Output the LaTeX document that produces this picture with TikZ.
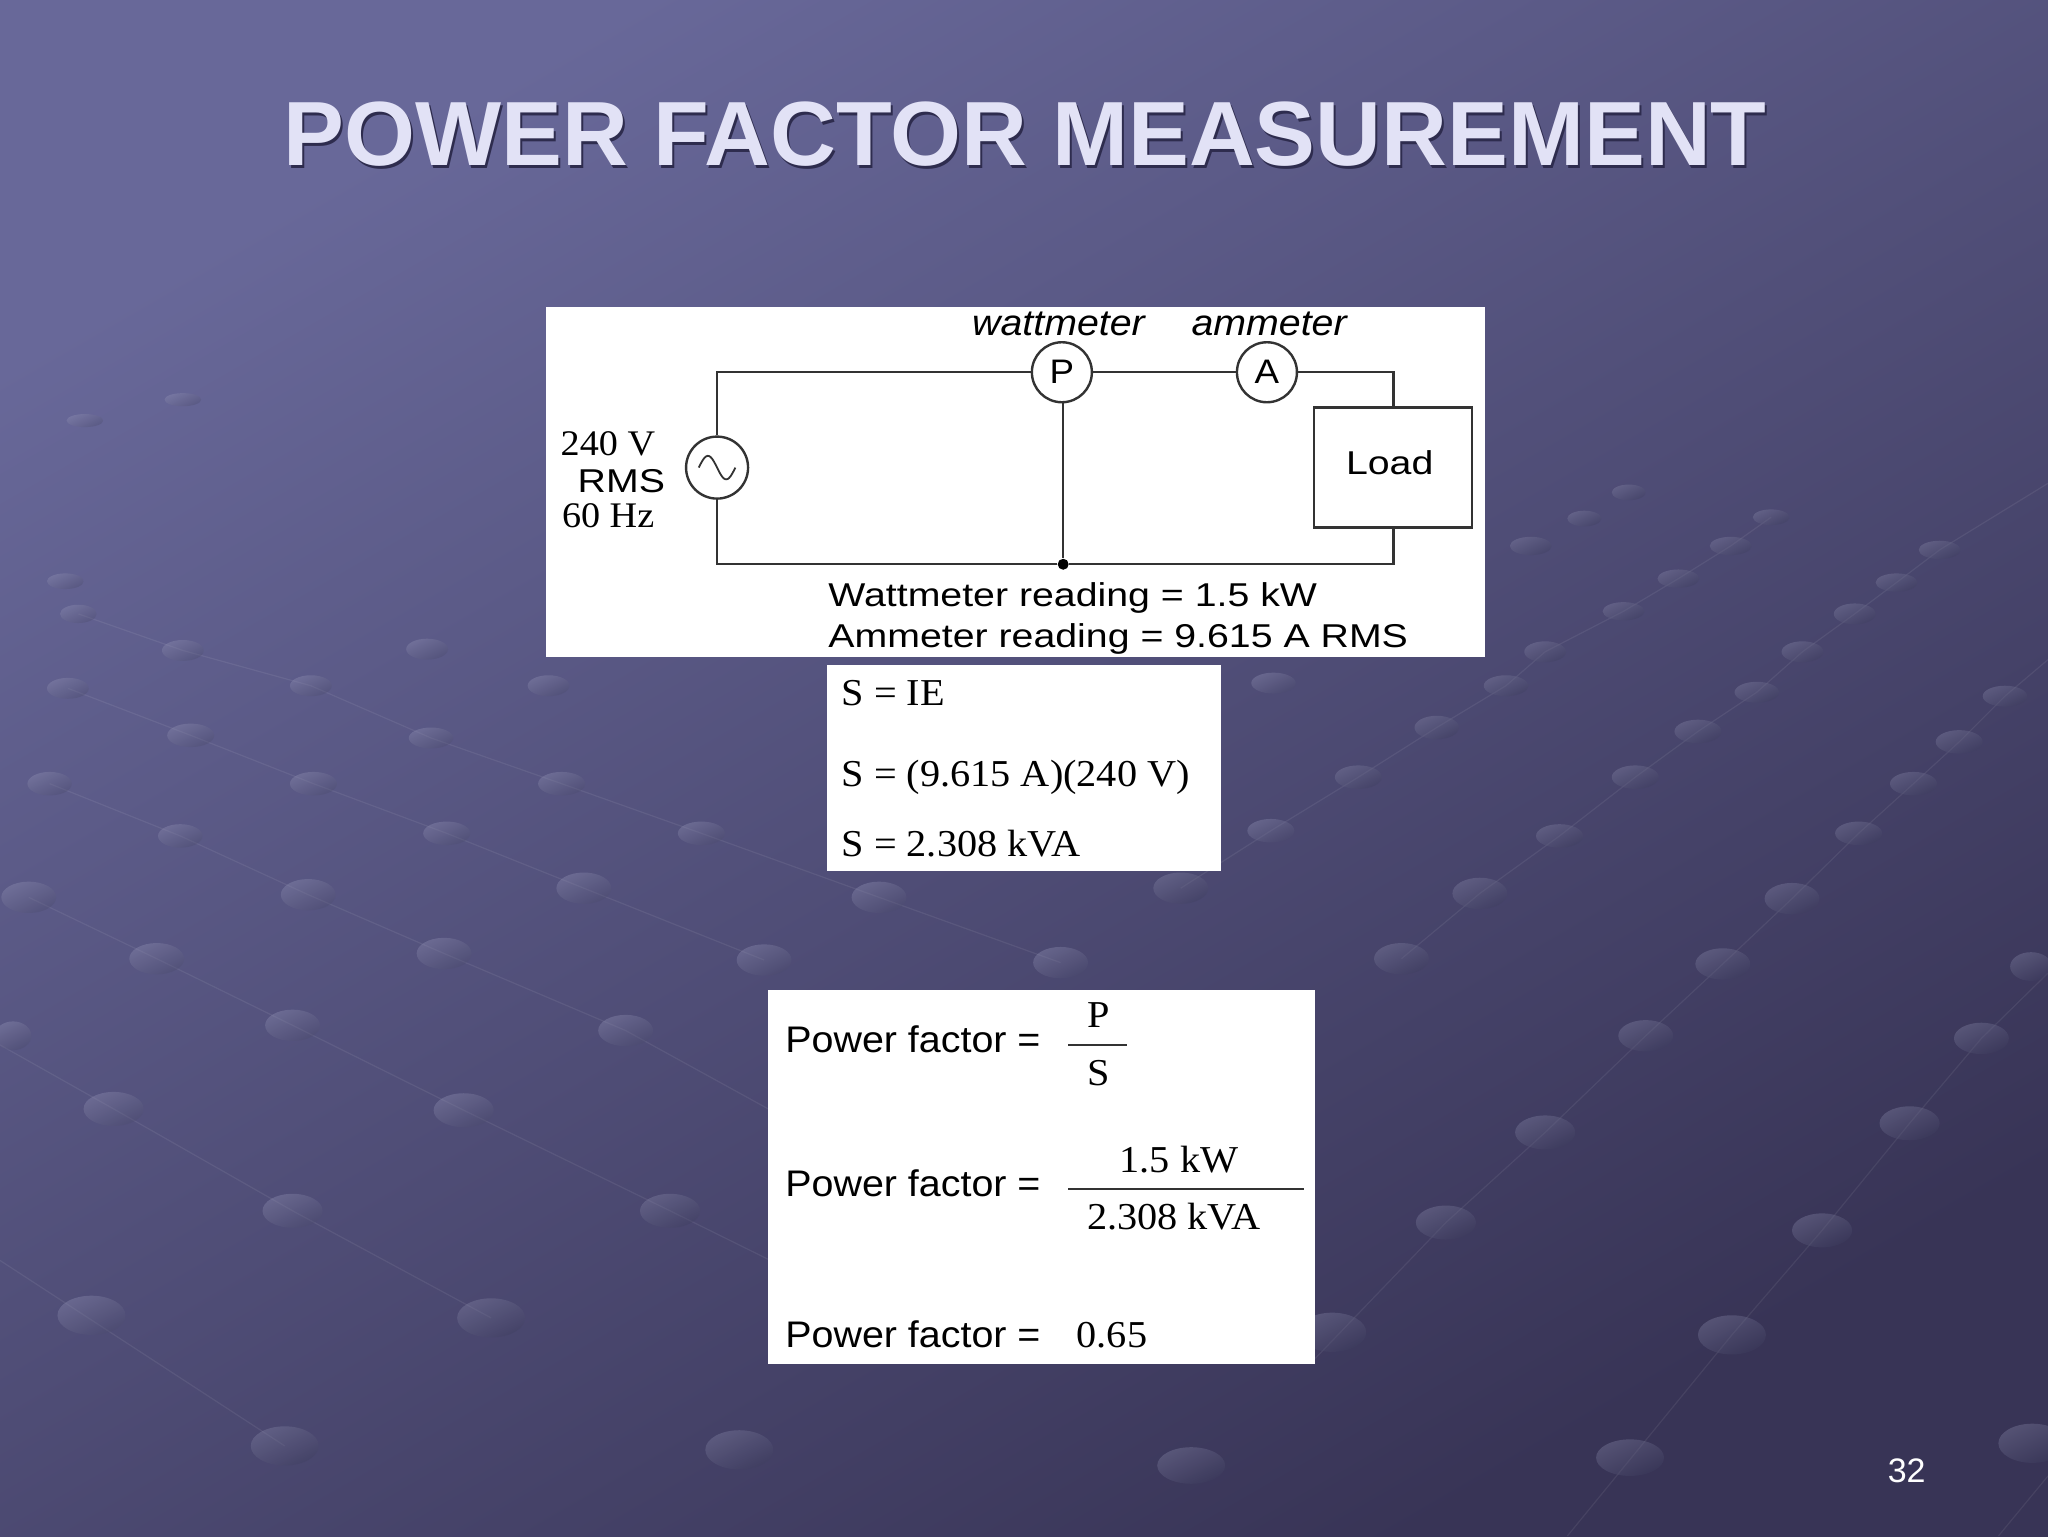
\documentclass[tikz,border=0pt]{standalone}
\usepackage{fontspec}
\setmainfont{Liberation Sans}
\newfontfamily\serifeq[FakeStretch=1.06]{Liberation Serif}
\newfontfamily\sanseq[FakeStretch=1.08]{Liberation Sans}
\newfontfamily\sanswide[FakeStretch=1.19]{Liberation Sans}
\newfontfamily\sanspf[FakeStretch=1.065]{Liberation Sans}
\definecolor{bgA}{HTML}{686899}
\definecolor{bgB}{HTML}{565684}
\definecolor{bgC}{HTML}{383456}
\definecolor{titlecol}{HTML}{E2E2F6}
\definecolor{shadowcol}{HTML}{2E2C4E}
\definecolor{wire}{HTML}{333333}
\tikzset{
  bgdot/.style={top color=#1!72!white,bottom color=#1!70!black,shading angle=25,opacity=.38},
  bgline/.style={draw=white,opacity=.07,line width=.6pt},
  whitebox/.style={fill=white,draw=none},
  circ/.style={circle,draw=wire,line width=1.2pt,minimum size=30pt,inner sep=0pt,fill=white},
  wireline/.style={draw=wire,line width=1.2pt},
  elabel/.style={inner sep=0pt,anchor=base west,text=black},
  clabel/.style={elabel,font=\sanswide\fontsize{16.5}{18}\selectfont},
  pf/.style={elabel,font=\sanspf\fontsize{18.5}{22}\selectfont},
  seq/.style={elabel,font=\serifeq\fontsize{19}{22}\selectfont},
  ttl/.style={font=\bfseries\fontsize{45.6}{54}\selectfont,inner sep=0pt,anchor=base},
}
\begin{document}
\begin{tikzpicture}[x=0.65306pt,y=-0.65306pt]
\useasboundingbox (0,0) rectangle (1568,1176);
% background
\shade[top color=bgA,middle color=bgB,bottom color=bgC,shading angle=30] (0,0) rectangle (1568,1176);
% faint lines
\foreach \p in {
 {(0,965)--(218,1107)},
 {(0,800)--(87,849)--(224,927)--(376,1009)},
 {(22,687)--(120,734)--(224,785)--(355,850)--(513,927)--(600,970)},
 {(38,600)--(138,640)--(236,685)--(340,730)--(479,789)--(590,850)},
 {(52,527)--(146,563)--(240,600)--(342,638)--(447,680)--(585,735)},
 {(60,470)--(140,498)--(238,525)--(330,565)--(430,600)--(537,638)--(673,687)--(812,737)},
 {(1200,1176)--(1326,1022)--(1395,942)--(1462,860)--(1517,795)--(1568,745)},
 {(1007,1040)--(1107,936)--(1183,867)--(1260,793)--(1319,738)--(1372,688)--(1423,638)--(1465,600)--(1500,568)--(1535,533)--(1568,505)},
 {(1073,734)--(1133,684)--(1194,640)--(1252,595)--(1300,560)--(1345,530)--(1380,499)--(1420,470)--(1452,446)--(1485,421)--(1568,370)},
 {(904,680)--(973,636)--(1040,595)--(1100,557)--(1153,525)--(1183,499)--(1243,468)--(1285,443)--(1325,418)--(1356,396)},
 {(1530,1176)--(1568,1130)}%
}{ \path[bgline] \p; }
% dots: x/y/rx/ry/colour
\foreach \x/\y/\a/\b/\c in {%
 218/1107/26/15/bgB, 566/1110/26/15/bgB, 912/1122/26/14/bgB, 1248/1116/26/14/bgB, 1556/1105/26/15/bgB,
 70/1007/26/15/bgA, 376/1009/26/15/bgB, 1020/1020/26/15/bgB, 1326/1022/26/15/bgB,
 224/927/23/13/bgA, 513/927/23/13/bgB, 1107/936/23/13/bgB, 1395/942/23/13/bgB,
 87/849/23/13/bgA, 355/850/23/13/bgA, 1183/867/23/13/bgB, 1462/860/23/13/bgB,
 10/793/14/11/bgA, 224/785/21/12/bgA, 479/789/21/12/bgA, 1260/793/21/12/bgB, 1517/795/21/12/bgB,
 120/734/21/12/bgA, 340/730/21/12/bgA, 585/735/21/12/bgA, 812/737/21/12/bgA, 1073/734/21/12/bgB, 1319/738/21/12/bgB, 1555/740/16/11/bgB,
 22/687/21/12/bgA, 236/685/21/12/bgA, 447/680/21/12/bgA, 673/687/21/12/bgA, 904/680/21/12/bgB, 1133/684/21/12/bgB, 1372/688/21/12/bgB,
 138/640/17/9/bgA, 342/638/18/9/bgA, 537/638/18/9/bgA, 973/636/18/9/bgA, 1194/640/18/9/bgB, 1423/638/18/9/bgB,
 38/600/17/9/bgA, 240/600/18/9/bgA, 430/600/18/9/bgA, 1040/595/18/9/bgB, 1252/595/18/9/bgB, 1465/600/18/9/bgB,
 146/563/18/9/bgA, 330/565/17/8/bgA, 1100/557/17/9/bgB, 1300/560/18/9/bgB, 1500/568/18/9/bgB,
 52/527/16/8/bgA, 238/525/16/8/bgA, 420/525/16/8/bgA, 975/523/17/8/bgA, 1153/525/17/8/bgB, 1345/530/17/8/bgB, 1535/533/17/8/bgB,
 140/498/16/8/bgA, 327/497/16/8/bgA, 1183/499/16/8/bgB, 1380/499/16/8/bgB,
 60/470/14/7/bgA, 1243/468/16/7/bgB, 1420/470/16/8/bgB,
 50/445/14/6/bgA, 1172/418/16/7/bgB, 1285/443/16/7/bgB, 1452/446/16/7/bgB,
 1213/397/13/6/bgB, 1325/418/16/7/bgB, 1485/421/16/7/bgB,
 1247/377/13/6/bgB, 1356/396/14/6/bgB,
 65/322/14/5/bgA, 140/306/14/5/bgA%
}{ \shade[bgdot=\c] (\x,\y) ellipse ({\a} and {\b}); }
% title
\node[ttl,text=shadowcol] (titleshadow) at (786.5,129) {POWER FACTOR MEASUREMENT};
\node[ttl,text=titlecol] (title) at (785,127) {POWER FACTOR MEASUREMENT};
% white panels
\path[whitebox] (418,235) rectangle (1137,503);
\path[whitebox] (633,509) rectangle (935,667);
\path[whitebox] (588,758) rectangle (1007,1044);
% circuit
\coordinate (tl) at (549,285);
\coordinate (bl) at (549,432);
\coordinate (tr) at (1067,285);
\coordinate (br) at (1067,432);
\node[circ,minimum size=31pt] (src) at (549,358) {};
\node[circ,font=\sanseq\fontsize{17}{18}\selectfont] (P) at (813,285) {P};
\node[circ,font=\sanseq\fontsize{17}{18}\selectfont] (A) at (970,285) {A};
\node[draw=wire,line width=1.2pt,fill=white,minimum width=79pt,minimum height=60pt,inner sep=0pt] (load) at (1066.5,358) {};
\node[clabel,anchor=base] (loadtext) at (1064,363) {Load};
\node[circle,fill=black,inner sep=0pt,minimum size=5.5pt] (junction) at (814,432) {};
\draw[wireline] (src) -- (tl) -- (P);
\draw[wireline] (P) -- (A);
\draw[wireline] (A) -- (tr) -- (tr |- load.north);
\draw[wireline] (src) -- (bl) -- (junction) -- (br) -- (br |- load.south);
\draw[wireline] (P.south -| junction) -- (junction);
\draw[wire,line width=.9pt] plot[domain=-1:1,samples=30,smooth] ({549+14*\x},{358+9*sin(180*\x)});
\node[clabel,font=\sanseq\itshape\fontsize{18.2}{20}\selectfont] (lw) at (744,257) {wattmeter};
\node[clabel,font=\sanseq\itshape\fontsize{18.2}{20}\selectfont] (la) at (912,257) {ammeter};
\node[clabel,font=\serifeq\fontsize{18}{20}\selectfont] (v) at (429,349) {240 V};
\node[clabel] (rms) at (442,377) {RMS};
\node[clabel,font=\serifeq\fontsize{18}{20}\selectfont] (hz) at (430,404) {60 Hz};
\node[clabel] (w) at (634,464) {Wattmeter reading = 1.5 kW};
\node[clabel] (am) at (634,496) {Ammeter reading = 9.615 A RMS};
% S equations
\node[seq] (s1) at (644,540) {S = IE};
\node[seq] (s2) at (644,602) {S = (9.615 A)(240 V)};
\node[seq] (s3) at (644,656) {S = 2.308 kVA};
% power factor
\node[pf] (p1) at (601,806) {Power factor =};
\node[seq] (p1n) at (832,787) {P};
\node[seq] (p1d) at (832,831) {S};
\coordinate (b1a) at (818,800);
\coordinate (b1b) at (863,800);
\draw[draw=wire,line width=1.2pt] (b1a) -- (b1b);
\node[pf] (p2) at (601,916) {Power factor =};
\node[seq] (p2n) at (857,898) {1.5 kW};
\node[seq] (p2d) at (832,941) {2.308 kVA};
\coordinate (b2a) at (818,910);
\coordinate (b2b) at (998,910);
\draw[draw=wire,line width=1pt] (b2a) -- (b2b);
\node[pf] (p3) at (601,1032) {Power factor =};
\node[seq] (p3v) at (824,1032) {0.65};
% page number
\node[elabel,text=white,font=\fontsize{17}{20}\selectfont] (pg) at (1445,1135) {32};
\end{tikzpicture}
\end{document}
